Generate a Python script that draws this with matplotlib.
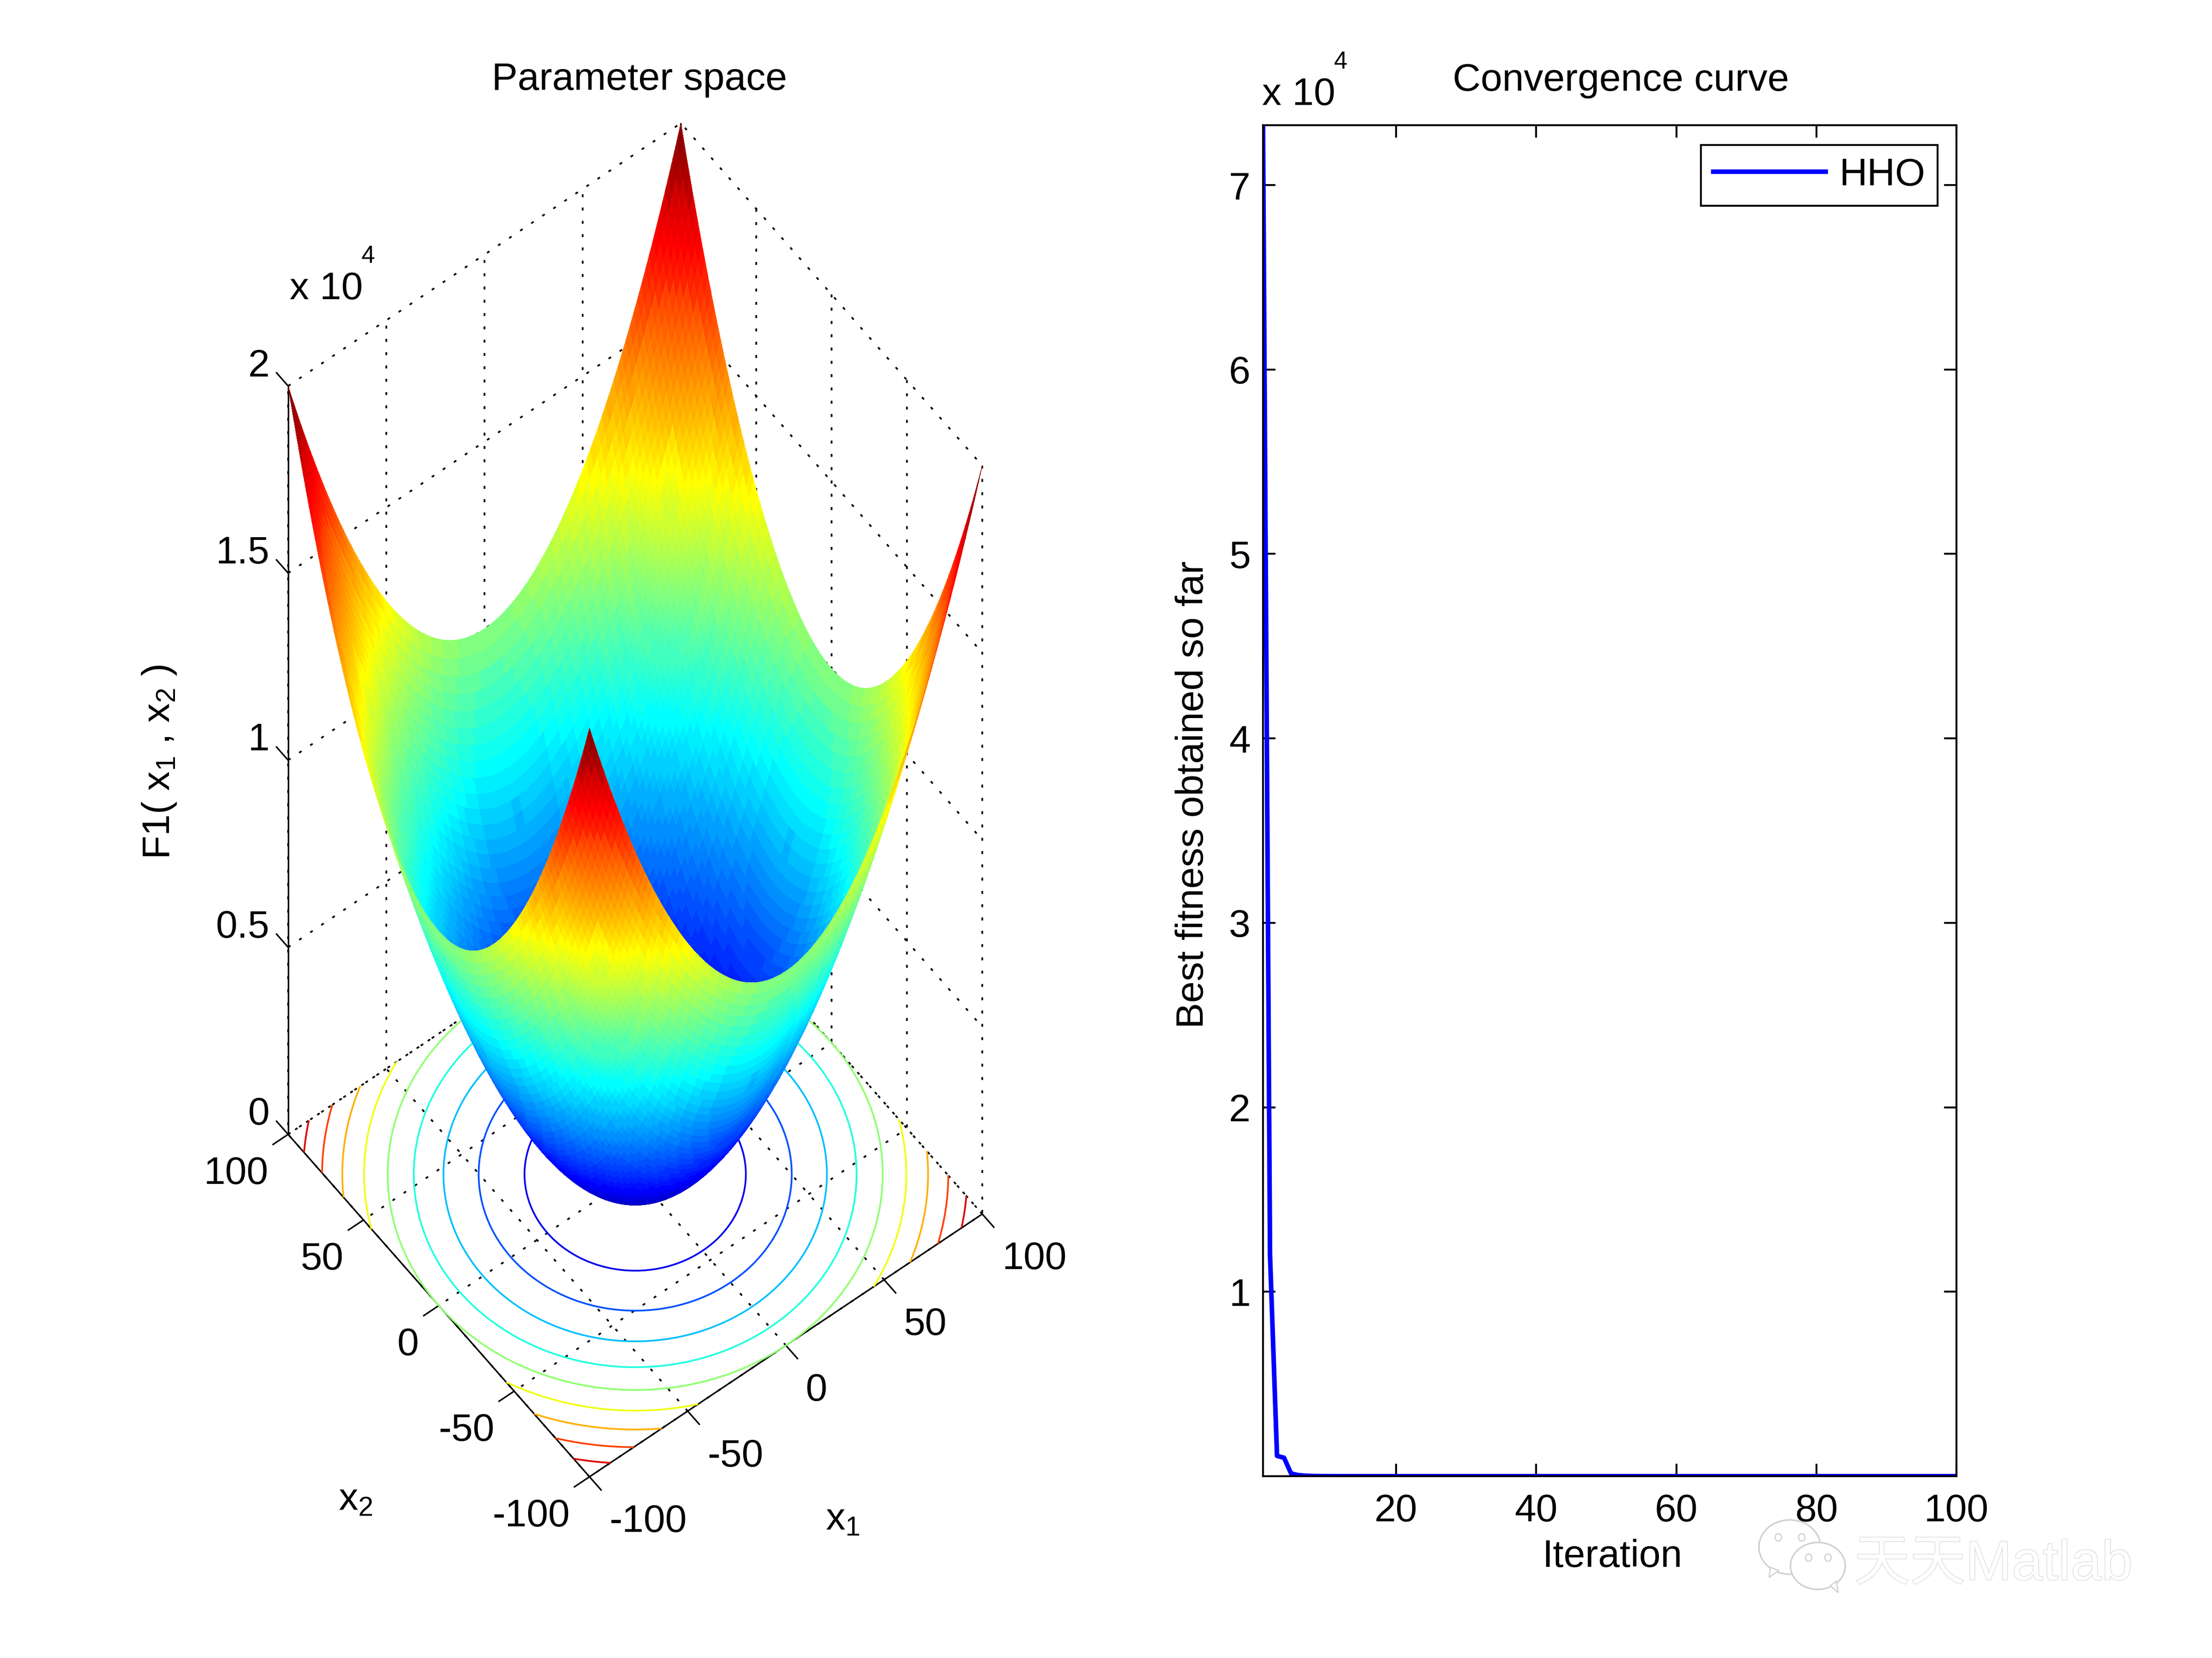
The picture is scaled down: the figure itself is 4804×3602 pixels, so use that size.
import numpy as np
import matplotlib
matplotlib.use("Agg")
import matplotlib.pyplot as plt
from matplotlib.colors import ListedColormap
from matplotlib.patches import Ellipse, Polygon
from matplotlib.transforms import Affine2D
from matplotlib import patheffects as pe
from mpl_toolkits.mplot3d import proj3d

W, H, DPI = 4804, 3602, 300
plt.rcParams['font.family'] = ['Liberation Sans', 'Noto Sans CJK SC', 'DejaVu Sans']
plt.rcParams['mathtext.default'] = 'regular'
plt.rcParams['axes.unicode_minus'] = False
plt.rcParams['grid.color'] = 'black'
plt.rcParams['grid.linewidth'] = 0.9
plt.rcParams['grid.linestyle'] = (0, (1.7, 6.0))
plt.rcParams['axes.linewidth'] = 1.0
FS = 20.2

# ---- data -----------------------------------------------------------------
x1_values = np.arange(-100, 101, 2)
x2_values = np.arange(-100, 101, 2)
contour_levels = [2000, 4000, 6000, 8000, 10000, 12000, 14000, 16000, 18000]
space_ticks = [-100, -50, 0, 50, 100]
z_ticks = [0, 5000, 10000, 15000, 20000]
z_tick_labels = ['0', '0.5', '1', '1.5', '2']
iterations = list(range(1, 101))
best_fitness = [73240, 12000, 1100, 1000, 150, 60, 25, 10, 4, 1.5,
                0.6, 0.2, 0.1, 0.04, 0.02, 0.01, 0, 0, 0, 0,
                0, 0, 0, 0, 0, 0, 0, 0, 0, 0,
                0, 0, 0, 0, 0, 0, 0, 0, 0, 0,
                0, 0, 0, 0, 0, 0, 0, 0, 0, 0,
                0, 0, 0, 0, 0, 0, 0, 0, 0, 0,
                0, 0, 0, 0, 0, 0, 0, 0, 0, 0,
                0, 0, 0, 0, 0, 0, 0, 0, 0, 0,
                0, 0, 0, 0, 0, 0, 0, 0, 0, 0,
                0, 0, 0, 0, 0, 0, 0, 0, 0, 0]
iter_ticks = [20, 40, 60, 80, 100]
fit_ticks = [10000, 20000, 30000, 40000, 50000, 60000, 70000]
fit_tick_labels = ['1', '2', '3', '4', '5', '6', '7']

fig = plt.figure(figsize=(W / DPI, H / DPI), dpi=DPI, facecolor='white')
px = Affine2D().scale(1 / W, -1 / H).translate(0, 1) + fig.transFigure

# MATLAB's 64-step jet
_t = np.arange(1, 65) / 64.0
jet64 = ListedColormap(np.clip(np.column_stack([
    np.minimum(4 * _t - 1.5, -4 * _t + 4.5),
    np.minimum(4 * _t - 0.5, -4 * _t + 3.5),
    np.minimum(4 * _t + 0.5, -4 * _t + 2.5)]), 0, 1))

# ---- 3-D panel ------------------------------------------------------------
S = 3060.0
cx, cy = 1379.5, 1738.0
frac = 0.095 / 0.185
left = cx - frac * S
bottom_px = cy + frac * S
ax = fig.add_axes([left / W, 1 - bottom_px / H, S / W, S / H], projection='3d',
                  proj_type='ortho', computed_zorder=False)
ax.view_init(elev=60.7, azim=-127.5)
ax.set_box_aspect((1, 1, 3.09), zoom=3547.0 / S)
ax.patch.set_alpha(0)

X1, X2 = np.meshgrid(x1_values, x2_values)
F1 = X1.astype(float) ** 2 + X2.astype(float) ** 2
ax.contour(X1, X2, F1, levels=contour_levels, zdir='z', offset=0, cmap=jet64,
           vmin=0, vmax=20000, linewidths=0.9, zorder=2)
ax.plot_surface(X1, X2, F1, rstride=1, cstride=1, cmap=jet64, vmin=0, vmax=20000,
                linewidth=0, antialiased=False, shade=False, zorder=3)
ax.set_xlim(-100, 100)
ax.set_ylim(-100, 100)
ax.set_zlim(0, 20000)
ax.set_xticks(space_ticks)
ax.set_yticks(space_ticks)
ax.set_zticks(z_ticks)
ax.set_zticklabels(z_tick_labels)
ax.tick_params(labelsize=FS)
for a in (ax.xaxis, ax.yaxis, ax.zaxis):
    a.pane.set_facecolor((1, 1, 1, 0))
    a.pane.set_edgecolor((1, 1, 1, 0))
    a.line.set_linewidth(0.8)
    a.line.set_color('black')
    a._axinfo['tick']['linewidth'] = {True: 0.8, False: 0.8}
for a in (ax.xaxis, ax.yaxis):
    a._axinfo['tick']['inward_factor'] = 0.48
    a._axinfo['tick']['outward_factor'] = 0.0
# z ticks of the reference run along x2, away from the box
ax.zaxis._get_tickdir = lambda position: 1
ax.zaxis._axinfo['tick']['inward_factor'] = 0.0
ax.zaxis._axinfo['tick']['outward_factor'] = 0.48
ax.set_xlabel('x$_1$', fontsize=FS)
ax.set_ylabel('x$_2$', fontsize=FS)
ax.set_zlabel('F1( x$_1$ , x$_2$ )', fontsize=FS, rotation=90)
for a in (ax.xaxis, ax.yaxis, ax.zaxis):
    a.set_rotate_label(False)
ax.set_title('Parameter space', fontsize=FS, x=(1389 - left) / S,
             y=((bottom_px - 195) / S) / 0.92, pad=0, va='baseline')

# ---- convergence panel ----------------------------------------------------
L, R, T, B = 2743, 4249, 272, 3207
ax2 = fig.add_axes([L / W, 1 - B / H, (R - L) / W, (B - T) / H])
line, = ax2.plot(iterations, best_fitness, color='#0000ff', linewidth=2.4, label='HHO')
ax2.set_xlim(1, 100)
ax2.set_ylim(0, 73240)
ax2.set_xticks(iter_ticks)
ax2.set_yticks(fit_ticks)
ax2.set_yticklabels(fit_tick_labels)
ax2.tick_params(direction='in', top=True, right=True, length=6.4, width=1.0, labelsize=FS)
ax2.tick_params(axis='x', pad=9)
ax2.tick_params(axis='y', pad=6.5)
ax2.set_xlabel('Iteration', fontsize=FS, va='center')
ax2.xaxis.set_label_coords((3501 - L) / (R - L), -(3382 - B) / (B - T))
ax2.set_ylabel('Best fitness obtained so far', fontsize=FS, va='center')
ax2.yaxis.set_label_coords((2591 - L) / (R - L), 1 - (1726 - T) / (B - T))
ax2.set_title('Convergence curve', fontsize=FS, x=(3520 - L) / (R - L), pad=18, va='baseline')
leg = ax2.legend(loc='upper right', bbox_to_anchor=(1 - 41 / (R - L), 1 - 43 / (B - T)),
                 fontsize=FS, fancybox=False, edgecolor='black', framealpha=1,
                 borderaxespad=0, borderpad=0.32, handlelength=2.9, handletextpad=0.35)
leg.get_frame().set_linewidth(1.0)

ax2.text(2741, 228, 'x 10', fontsize=FS, transform=px, va='baseline', ha='left')
ax2.text(2897, 149, '4', fontsize=12.7, transform=px, va='baseline', ha='left')
ax.text2D(629, 650, 'x 10', fontsize=FS, transform=px, va='baseline', ha='left')
ax.text2D(785, 571, '4', fontsize=12.7, transform=px, va='baseline', ha='left')

# ---- place 3-D labels as in the reference ---------------------------------
fig.canvas.draw()
M = ax.get_proj()
inv = ax.transData.inverted()


def pin(text, xp, yp):
    text.set_position(tuple(inv.transform((xp, H - yp))))
    text.set_position = lambda *_: None
    text.set_x = lambda *_: None
    text.set_y = lambda *_: None


def base_px(x, y, z):
    u, v, _ = proj3d.proj_transform(x, y, z, M)
    d = ax.transData.transform((u, v))
    return d[0], H - d[1]


for t in ax.xaxis.get_major_ticks():
    bx, by = base_px(t.get_loc(), -100, 0)
    t.label1.set_ha('left')
    t.label1.set_va('center')
    pin(t.label1, bx + 43, by + 98)
for t in ax.yaxis.get_major_ticks():
    bx, by = base_px(-100, t.get_loc(), 0)
    t.label1.set_ha('right')
    t.label1.set_va('center')
    pin(t.label1, bx - 43, by + 86)
for t in ax.zaxis.get_major_ticks():
    bx, by = base_px(-100, 100, t.get_loc())
    t.label1.set_ha('right')
    t.label1.set_va('center')
    pin(t.label1, bx - 40, by - 43)
pin(ax.xaxis.label, 1830, 3302)
pin(ax.yaxis.label, 772, 3259)
pin(ax.zaxis.label, 346, 1655)

# ---- watermark ------------------------------------------------------------
shade = '#d0d0d0'
for xy, w, h in (((3887, 3361), 134, 118), ((3948, 3402), 119, 102)):
    fig.add_artist(Ellipse(xy, w, h, transform=px, facecolor='white', edgecolor=shade, linewidth=0.8))
fig.add_artist(Polygon([(3845, 3405), (3842, 3427), (3863, 3412)], closed=True, transform=px,
                       facecolor='white', edgecolor=shade, linewidth=0.6))
fig.add_artist(Polygon([(3975, 3445), (3992, 3460), (3988, 3435)], closed=True, transform=px,
                       facecolor='white', edgecolor=shade, linewidth=0.6))
for xy in ((3862, 3340), (3913, 3340), (3928, 3384), (3970, 3384)):
    fig.add_artist(Ellipse(xy, 14, 16, transform=px, facecolor='white', edgecolor=shade, linewidth=0.6))
fig.text(4027, 3432, '天天Matlab', transform=px, fontsize=29, color='white', va='baseline', ha='left',
         path_effects=[pe.withStroke(linewidth=0.5, foreground=shade)])

fig.savefig('out.png', dpi=DPI, facecolor='white')
